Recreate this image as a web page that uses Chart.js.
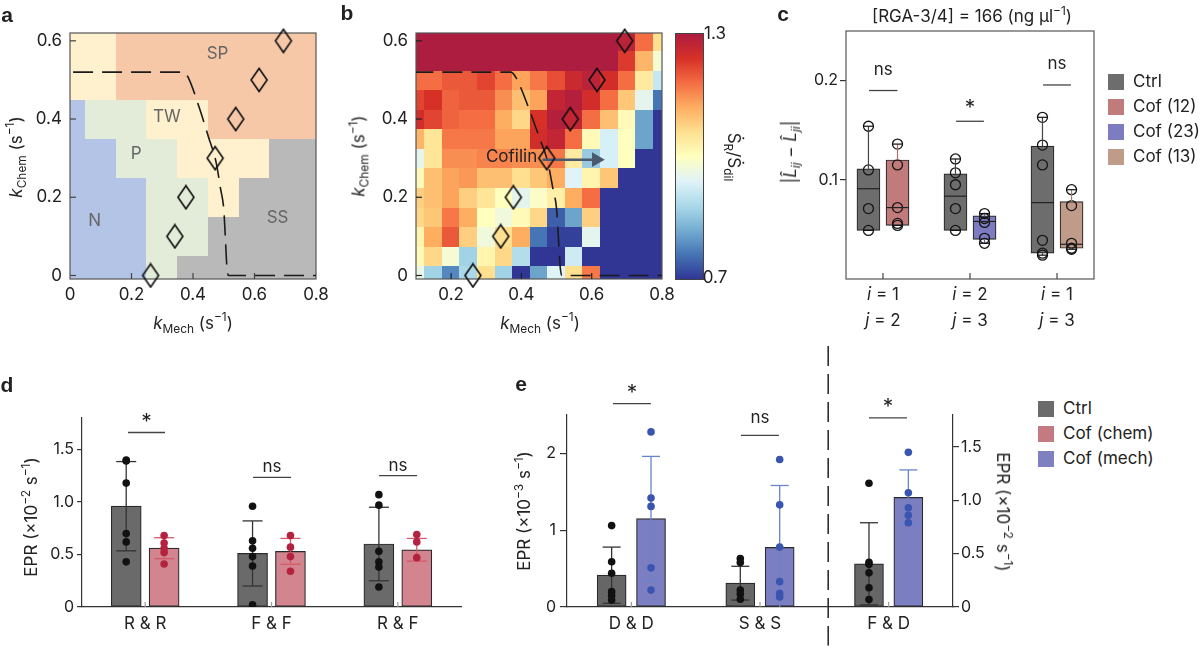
<!DOCTYPE html>
<html>
<head>
<meta charset="utf-8">
<title>Figure</title>
<script src="https://cdn.jsdelivr.net/npm/chart.js@4.4.1/dist/chart.umd.min.js"></script>
<style>
  body { margin: 0; background: #fff; }
  #fig { position: relative; width: 1200px; height: 646px; overflow: hidden; font-family: Inter, "Liberation Sans", sans-serif; color: #222; }
  #fig canvas { position: absolute; }
  .t { position: absolute; white-space: nowrap; font-size: 17px; line-height: 1; transform: translate(-50%, -50%); }
  .t.rl { transform: translate(-50%, -50%) rotate(-90deg); }
  .t.rr { transform: translate(-50%, -50%) rotate(90deg); }
  .t sub { font-size: 0.7em; vertical-align: -0.35em; }
  .t sup { font-size: 0.7em; vertical-align: 0.6em; }
  .pl { position: absolute; font: bold 21px "Liberation Sans", Arial, sans-serif; line-height: 1; transform: translate(-50%, -50%); }
  .lg { position: absolute; font-size: 17px; line-height: 1; }
  .lg div { display: flex; align-items: center; height: 25px; }
  .lg span { display: inline-block; width: 16px; height: 16px; margin-right: 9px; }
  #cbar { position: absolute; left: 675px; top: 33px; width: 27px; height: 245px; border: 1px solid #444; }
</style>
</head>
<body>
<div id="fig">
  <canvas id="cA" width="340" height="340" style="left:0;top:0"></canvas>
  <canvas id="cB" width="345" height="340" style="left:340px;top:0"></canvas>
  <canvas id="cC" width="350" height="340" style="left:760px;top:0"></canvas>
  <canvas id="cD" width="470" height="286" style="left:0;top:360px"></canvas>
  <canvas id="cE" width="510" height="306" style="left:490px;top:340px"></canvas>
  <div id="cbar"></div>
</div>
<script>
// ---------- panel a: phase diagram ----------
const phaseMech = [0, 0.1, 0.2, 0.3, 0.4, 0.5, 0.6, 0.7, 0.8];
const phaseChem = [0, 0.1, 0.2, 0.3, 0.4, 0.5, 0.6];
const phaseRows = [
  ['N', 'N', 'N', 'P', 'SS', 'SS', 'SS', 'SS', 'SS'],
  ['N', 'N', 'N', 'P', 'P', 'SS', 'SS', 'SS', 'SS'],
  ['N', 'N', 'N', 'P', 'P', 'TW', 'SS', 'SS', 'SS'],
  ['N', 'N', 'P', 'P', 'TW', 'TW', 'TW', 'SS', 'SS'],
  ['N', 'P', 'P', 'TW', 'TW', 'SP', 'SP', 'SP', 'SP'],
  ['TW', 'TW', 'SP', 'SP', 'SP', 'SP', 'SP', 'SP', 'SP'],
  ['TW', 'TW', 'SP', 'SP', 'SP', 'SP', 'SP', 'SP', 'SP']
];
const phaseNames = ['SP', 'TW', 'P', 'N', 'SS'];
const phaseLabelMech = [0.48, 0.315, 0.215, 0.08, 0.675];
const phaseLabelChem = [0.567, 0.405, 0.31, 0.14, 0.147];

// experimental points and the boundary (both panels a and b)
const diamondMech = [0.262, 0.341, 0.377, 0.472, 0.539, 0.615, 0.694];
const diamondChem = [0, 0.1, 0.2, 0.3, 0.4, 0.5, 0.6];
const boundaryMech = [0.01, 0.37, 0.385, 0.42, 0.45, 0.475, 0.49, 0.5, 0.505, 0.51, 0.515, 0.8];
const boundaryChem = [0.52, 0.52, 0.505, 0.43, 0.355, 0.29, 0.22, 0.17, 0.1, 0.025, 0, 0];

// ---------- panel b: S_R / S_dil heat map ----------
const hmMech = [0.1, 0.15, 0.2, 0.25, 0.3, 0.35, 0.4, 0.45, 0.5, 0.55, 0.6, 0.65, 0.7, 0.75, 0.8];
const hmChem = [0, 0.05, 0.1, 0.15, 0.2, 0.25, 0.3, 0.35, 0.4, 0.45, 0.5, 0.55, 0.6];
const hmRows = [
  [0.96, 0.87, 0.78, 0.88, 1.06, 0.87, 0.70, 0.81, 0.94, 1.06, 1.17, 0.70, 0.70, 0.70, 0.70],
  [1.01, 1.07, 0.98, 0.87, 1.02, 1.07, 0.89, 0.70, 0.70, 0.92, 0.70, 0.70, 0.70, 0.70, 0.70],
  [1.02, 1.12, 1.20, 1.08, 0.97, 1.06, 1.12, 0.76, 0.71, 0.71, 0.95, 0.70, 0.70, 0.70, 0.70],
  [1.07, 1.09, 1.17, 1.12, 1.00, 0.97, 1.01, 1.07, 0.74, 0.81, 1.08, 0.70, 0.70, 0.70, 0.70],
  [1.08, 1.10, 1.13, 1.08, 1.05, 1.00, 0.95, 0.99, 1.03, 1.12, 1.18, 0.70, 0.70, 0.70, 0.70],
  [1.01, 1.10, 1.13, 1.14, 1.10, 1.10, 1.06, 1.09, 1.12, 0.94, 1.02, 1.09, 0.70, 0.70, 0.70],
  [0.95, 1.05, 1.15, 1.15, 1.16, 1.16, 1.15, 1.15, 1.17, 1.04, 0.86, 0.93, 1.00, 0.70, 0.70],
  [1.11, 1.05, 1.17, 1.17, 1.17, 1.13, 1.13, 1.25, 1.27, 1.18, 1.01, 0.93, 1.00, 0.81, 0.70],
  [1.25, 1.22, 1.19, 1.18, 1.18, 1.12, 1.07, 1.24, 1.29, 1.27, 1.18, 1.10, 1.01, 0.81, 0.70],
  [1.22, 1.24, 1.19, 1.20, 1.20, 1.15, 1.10, 1.13, 1.27, 1.29, 1.25, 1.18, 1.09, 0.95, 0.76],
  [1.18, 1.18, 1.20, 1.20, 1.22, 1.18, 1.13, 1.17, 1.21, 1.26, 1.28, 1.25, 1.18, 1.04, 0.91],
  [1.30, 1.30, 1.30, 1.30, 1.30, 1.30, 1.30, 1.30, 1.30, 1.30, 1.30, 1.30, 1.23, 1.11, 0.98],
  [1.30, 1.30, 1.30, 1.30, 1.30, 1.30, 1.30, 1.30, 1.30, 1.30, 1.30, 1.30, 1.28, 1.18, 1.06]
];
const arrowMech = [0.46, 0.613];
const arrowChem = [0.296, 0.296];

// ---------- panel c: |L_ij - L_ji| box plots ----------
const pairI = [1, 2, 1];
const pairJ = [2, 3, 3];
const ctrlQ1 = [0.049, 0.049, 0.026];
const ctrlMed = [0.091, 0.0835, 0.077];
const ctrlQ3 = [0.111, 0.106, 0.134];
const cofQ1 = [0.054, 0.040, 0.031];
const cofMed = [0.072, 0.058, 0.035];
const cofQ3 = [0.120, 0.0636, 0.078];
const ctrlVals = [[0.154, 0.110, 0.071, 0.049], [0.121, 0.107, 0.095, 0.071, 0.049], [0.163, 0.135, 0.115, 0.039, 0.026, 0.024]];
const cofVals = [[0.136, 0.115, 0.072, 0.056, 0.054], [0.066, 0.061, 0.057, 0.041, 0.036], [0.090, 0.074, 0.036, 0.031, 0.030]];
const cSeries = ['Ctrl', 'Cof (12)', 'Cof (23)', 'Cof (13)'];

// ---------- panel d: EPR (x10^-2 s^-1) ----------
const dGroups = ['R & R', 'F & F', 'R & F'];
const dCtrlMean = [0.96, 0.51, 0.60];
const dCtrlSD = [0.425, 0.31, 0.35];
const dCofMean = [0.56, 0.53, 0.545];
const dCofSD = [0.10, 0.123, 0.108];
const dCtrlPts = [[1.40, 1.39, 1.18, 0.70, 0.62, 0.43], [0.96, 0.63, 0.56, 0.48, 0.39, 0.02], [1.07, 0.97, 0.53, 0.43, 0.38, 0.19]];
const dCofPts = [[0.68, 0.61, 0.56, 0.52, 0.41], [0.68, 0.57, 0.48, 0.34], [0.69, 0.62, 0.47]];

// ---------- panel e: EPR, last group on the right axis ----------
const eGroups = ['D & D', 'S & S', 'F & D'];
const eAxis = ['y', 'y', 'y2'];
const eCtrlMean = [0.414, 0.31, 0.405];
const eCtrlSD = [0.366, 0.22, 0.385];
const eCofMean = [1.151, 0.776, 1.028];
const eCofSD = [0.81, 0.806, 0.257];
const eCtrlPts = [[1.06, 0.59, 0.44, 0.20, 0.15, 0.09], [0.63, 0.58, 0.22, 0.17, 0.10], [1.16, 0.42, 0.40, 0.32, 0.18, 0.07]];
const eCofPts = [[2.28, 1.42, 1.31, 0.51, 0.22], [1.92, 1.33, 0.78, 0.33, 0.18, 0.13], [1.45, 1.07, 0.93, 0.86, 0.79]];
const eSeries = ['Ctrl', 'Cof (chem)', 'Cof (mech)'];

// ---------- setup ----------
const F = 'Inter, "Liberation Sans", sans-serif';
Chart.defaults.font.family = F;
Chart.defaults.color = '#222';
Chart.defaults.animation = false;
Chart.defaults.responsive = false;
Chart.defaults.events = [];
Chart.defaults.plugins.legend.display = false;
Chart.defaults.plugins.tooltip.enabled = false;

const fig = document.getElementById('fig');
const phaseColors = { SP: '#f6c8a8', TW: '#fff1cd', P: '#e2ecd8', N: '#b3c4e6', SS: '#b9b9b9' };
const cmapStops = ['#313695', '#4575b4', '#74add1', '#abd9e9', '#e0f3f8', '#ffffbf', '#fee090', '#fdae61', '#f46d43', '#d73027', '#ad1d40'];

function hexRgb(h) { const n = parseInt(h.slice(1), 16); return [n >> 16, (n >> 8) & 255, n & 255]; }
function cmap(v) {
  const t = Math.min(1, Math.max(0, (v - 0.7) / 0.6)) * 10;
  const i = Math.min(9, Math.floor(t)), f = t - i;
  const a = hexRgb(cmapStops[i]), b = hexRgb(cmapStops[i + 1]);
  return 'rgb(' + a.map((c, k) => Math.round(c + (b[k] - c) * f)).join(',') + ')';
}
const fmt1 = v => v === 0 ? '0' : v.toFixed(1);
const fmt0 = v => String(v);

function addText(html, x, y, cls) {
  const d = document.createElement('div');
  d.className = cls || 't';
  d.style.left = x + 'px';
  d.style.top = y + 'px';
  d.innerHTML = html;
  fig.appendChild(d);
}
function addLegend(x, y, names, colors) {
  const box = document.createElement('div');
  box.className = 'lg';
  box.style.left = x + 'px';
  box.style.top = y + 'px';
  names.forEach((n, i) => {
    const row = document.createElement('div');
    row.innerHTML = '<span style="background:' + colors[i] + '"></span>' + n;
    box.appendChild(row);
  });
  fig.appendChild(box);
}

function ctxDo(chart, fn) { const g = chart.ctx; g.save(); fn(g); g.restore(); }
function seg(g, x0, y0, x1, y1) { g.beginPath(); g.moveTo(x0, y0); g.lineTo(x1, y1); g.stroke(); }
function frame(chart) {
  const a = chart.chartArea;
  ctxDo(chart, g => { g.strokeStyle = '#555'; g.lineWidth = 1.2; g.strokeRect(a.left, a.top, a.right - a.left, a.bottom - a.top); });
}
function inTicks(chart, id, vals, len, color) {
  const s = chart.scales[id], a = chart.chartArea;
  ctxDo(chart, g => {
    g.strokeStyle = color; g.lineWidth = 1.2;
    vals.forEach(v => {
      const p = s.getPixelForValue(v);
      if (s.isHorizontal()) seg(g, p, a.bottom, p, a.bottom - len);
      else seg(g, a.left, p, a.left + len, p);
    });
  });
}
function label(chart, x, y, str, font, color) {
  const px = chart.scales.x.getPixelForValue(x), py = chart.scales.y.getPixelForValue(y);
  ctxDo(chart, g => { g.font = font; g.fillStyle = color; g.textAlign = 'center'; g.textBaseline = 'middle'; g.fillText(str, px, py); });
}
function sigMarks(chart, list) {
  const xs = chart.scales.x, ys = chart.scales.y;
  ctxDo(chart, g => {
    g.strokeStyle = '#444'; g.lineWidth = 1.3; g.fillStyle = '#222'; g.textAlign = 'center'; g.textBaseline = 'middle';
    list.forEach(s => {
      const y = ys.getPixelForValue(s.y);
      seg(g, xs.getPixelForValue(s.x0), y, xs.getPixelForValue(s.x1), y);
      g.font = (s.label === '*' ? '21px ' : '17px ') + F;
      g.fillText(s.label, xs.getPixelForValue((s.x0 + s.x1) / 2), ys.getPixelForValue(s.ty));
    });
  });
}
function errBars(chart, xs, means, sds, axes, color, cap) {
  ctxDo(chart, g => {
    g.strokeStyle = color; g.lineWidth = 1.3;
    xs.forEach((x, i) => {
      const ys = chart.scales[axes[i]], px = chart.scales.x.getPixelForValue(x);
      const lowV = means[i] - sds[i];
      const hi = ys.getPixelForValue(means[i] + sds[i]), lo = ys.getPixelForValue(Math.max(ys.min, lowV));
      seg(g, px, hi, px, lo);
      seg(g, px - cap, hi, px + cap, hi);
      if (lowV > ys.min) seg(g, px - cap, lo, px + cap, lo);
    });
  });
}
function cells(chart, xv, yv, rows, half, colorOf) {
  const xs = chart.scales.x, ys = chart.scales.y, a = chart.chartArea;
  ctxDo(chart, g => {
    g.beginPath(); g.rect(a.left, a.top, a.right - a.left, a.bottom - a.top); g.clip();
    rows.forEach((row, j) => row.forEach((v, i) => {
      const x0 = Math.floor(xs.getPixelForValue(xv[i] - half[0])), x1 = Math.ceil(xs.getPixelForValue(xv[i] + half[0]));
      const y0 = Math.floor(ys.getPixelForValue(yv[j] + half[1])), y1 = Math.ceil(ys.getPixelForValue(yv[j] - half[1]));
      g.fillStyle = colorOf(v);
      g.fillRect(x0, y0, x1 - x0, y1 - y0);
    }));
  });
}

function kAxis(min, max, ticks, size, horizontal) {
  return {
    type: 'linear', min, max, offset: false,
    afterBuildTicks: s => { s.ticks = ticks.map(value => ({ value })); },
    afterFit: s => { if (horizontal) s.height = size; else s.width = size; },
    grid: { display: false, drawTicks: false },
    border: { display: false },
    ticks: { padding: horizontal ? 6 : 8, font: { size: 17 }, color: '#222', callback: fmt1 }
  };
}
function valAxis(min, max, ticks, width, tickLen, pad, pos, fmt, border) {
  return {
    type: 'linear', position: pos, min, max,
    afterBuildTicks: s => { s.ticks = ticks.map(value => ({ value })); },
    afterFit: s => { s.width = width; },
    grid: { display: true, drawOnChartArea: false, drawTicks: true, tickLength: tickLen, color: '#333', lineWidth: 1.2 },
    border: { display: border, color: '#333', width: 1.2 },
    ticks: { padding: pad, font: { size: 16 }, color: '#222', callback: fmt }
  };
}
function groupAxis(min, max, ticks, labels, height) {
  return {
    type: 'linear', min, max, offset: false,
    afterBuildTicks: s => { s.ticks = ticks.map(value => ({ value })); },
    afterFit: s => { s.height = height; },
    grid: { display: false, drawTicks: false },
    border: { display: !!labels, color: '#333', width: 1.2 },
    ticks: { display: !!labels, padding: 7, font: { size: 17 }, color: '#222', callback: v => labels ? labels[Math.round(v) - 1] : '' }
  };
}
function xy(xs, ys) { return xs.map((x, i) => ({ x, y: ys[i] })); }
function pts(vals, groups, off, idx) {
  return idx.flatMap(i => vals[i].map(y => ({ x: groups[i] + off, y })));
}

const diamond = (() => {
  const c = document.createElement('canvas');
  c.width = 20; c.height = 26;
  const g = c.getContext('2d');
  g.strokeStyle = '#111'; g.lineWidth = 1.6;
  g.beginPath(); g.moveTo(10, 1.5); g.lineTo(18, 13); g.lineTo(10, 24.5); g.lineTo(2, 13); g.closePath(); g.stroke();
  return c;
})();

function boundarySet() {
  return { type: 'line', data: xy(boundaryMech, boundaryChem), borderColor: '#1b1b1b', borderWidth: 1.6, borderDash: [20, 9], pointRadius: 0, cubicInterpolationMode: 'monotone', fill: false };
}
function diamondSet() {
  return { type: 'scatter', data: xy(diamondMech, diamondChem), pointStyle: diamond, pointRadius: 10, clip: false };
}

// ---------- chart a ----------
new Chart(document.getElementById('cA'), {
  type: 'scatter',
  data: { datasets: [diamondSet(), boundarySet()] },
  options: {
    layout: { padding: { top: 33, right: 24 } },
    scales: {
      x: kAxis(0, 0.8, [0, 0.2, 0.4, 0.6, 0.8], 61, true),
      y: kAxis(-0.009, 0.62, [0, 0.2, 0.4, 0.6], 70, false)
    }
  },
  plugins: [{
    id: 'phaseA',
    beforeDatasetsDraw(c) {
      cells(c, phaseMech, phaseChem, phaseRows, [0.05, 0.05], p => phaseColors[p]);
      phaseNames.forEach((n, i) => label(c, phaseLabelMech[i], phaseLabelChem[i], n, '17px ' + F, '#666'));
      frame(c);
      inTicks(c, 'x', [0.2, 0.4, 0.6], 6, '#444');
      inTicks(c, 'y', [0, 0.2, 0.4, 0.6], 6, '#444');
    }
  }]
});

// ---------- chart b ----------
new Chart(document.getElementById('cB'), {
  type: 'scatter',
  data: {
    datasets: [
      diamondSet(),
      { type: 'line', data: xy(arrowMech, arrowChem), borderColor: '#4b596f', borderWidth: 2.5, pointRadius: [0, 6], pointStyle: 'triangle', rotation: 90, pointBackgroundColor: '#4b596f', pointBorderColor: '#4b596f' },
      boundarySet()
    ]
  },
  options: {
    layout: { padding: { top: 33, right: 23 } },
    scales: {
      x: kAxis(0.1, 0.8, [0.2, 0.4, 0.6, 0.8], 61, true),
      y: kAxis(-0.009, 0.62, [0, 0.2, 0.4, 0.6], 76, false)
    }
  },
  plugins: [{
    id: 'heatB',
    beforeDatasetsDraw(c) {
      cells(c, hmMech, hmChem, hmRows, [0.025, 0.025], cmap);
      frame(c);
      inTicks(c, 'x', [0.2, 0.4, 0.6], 6, '#222');
      inTicks(c, 'y', [0, 0.2, 0.4, 0.6], 6, '#222');
    },
    afterDatasetsDraw(c) {
      label(c, 0.372, 0.304, 'Cofilin', '17px ' + F, '#222');
    }
  }]
});
document.getElementById('cbar').style.background = 'linear-gradient(to top,' + cmapStops.join(',') + ')';

// ---------- chart c ----------
const cX = [1, 2, 3], cOff = 0.167, cIdx = [0, 1, 2];
const cColors = ['#6d6d6d', '#c27b7b', '#7d7cc1', '#c09b89'];
const cWhisk = ['#b06a6a', '#5d5ca0', '#a07f6e'];
const cSigs = [
  { x0: 0.839, x1: 1.166, y: 0.19, ty: 0.2105, label: 'ns' },
  { x0: 1.84, x1: 2.16, y: 0.159, ty: 0.1715, label: '*' },
  { x0: 2.84, x1: 3.16, y: 0.1956, ty: 0.2165, label: 'ns' }
];
function boxLines(c, off, q1, med, q3, vals, colors) {
  const xs = c.scales.x, ys = c.scales.y;
  ctxDo(c, g => {
    g.lineWidth = 1.2;
    cX.forEach((gv, i) => {
      const px = xs.getPixelForValue(gv + off);
      const lo = Math.min(...vals[i]), hi = Math.max(...vals[i]);
      g.strokeStyle = colors[i];
      seg(g, px, ys.getPixelForValue(q3[i]), px, ys.getPixelForValue(hi));
      seg(g, px, ys.getPixelForValue(q1[i]), px, ys.getPixelForValue(lo));
      g.strokeStyle = '#111';
      seg(g, px - 5.5, ys.getPixelForValue(hi), px + 5.5, ys.getPixelForValue(hi));
      seg(g, px - 5.5, ys.getPixelForValue(lo), px + 5.5, ys.getPixelForValue(lo));
      g.strokeStyle = '#222';
      seg(g, px - 11.5, ys.getPixelForValue(med[i]), px + 11.5, ys.getPixelForValue(med[i]));
    });
  });
}
const chC = new Chart(document.getElementById('cC'), {
  type: 'bar',
  data: {
    datasets: [
      { data: cX.map((g, i) => ({ x: g - cOff, y: [ctrlQ1[i], ctrlQ3[i]] })), backgroundColor: cColors[0], borderColor: '#2b2b2b', borderWidth: 1.2, borderSkipped: false, grouped: false, barThickness: 23, maxBarThickness: 23, order: 1 },
      { data: cX.map((g, i) => ({ x: g + cOff, y: [cofQ1[i], cofQ3[i]] })), backgroundColor: cColors.slice(1), borderColor: '#2b2b2b', borderWidth: 1.2, borderSkipped: false, grouped: false, barThickness: 23, maxBarThickness: 23, order: 1 },
      { type: 'scatter', data: pts(ctrlVals, cX, -cOff, cIdx), pointRadius: 5, borderWidth: 1.3, borderColor: '#151515', backgroundColor: 'rgba(0,0,0,0)', order: 0 },
      { type: 'scatter', data: pts(cofVals, cX, cOff, cIdx), pointRadius: 5, borderWidth: 1.3, borderColor: '#151515', backgroundColor: 'rgba(0,0,0,0)', order: 0 }
    ]
  },
  options: {
    layout: { padding: { top: 31, right: 16 } },
    scales: {
      x: groupAxis(0.575, 3.425, cX, null, 61),
      y: valAxis(0, 0.25, [0.1, 0.2], 86, 6, 2, 'left', fmt1, false)
    }
  },
  plugins: [{
    id: 'boxC',
    afterDatasetsDraw(c) {
      boxLines(c, -cOff, ctrlQ1, ctrlMed, ctrlQ3, ctrlVals, ['#444', '#444', '#444']);
      boxLines(c, cOff, cofQ1, cofMed, cofQ3, cofVals, cWhisk);
      frame(c);
      inTicks(c, 'x', cX, 6, '#444');
      sigMarks(c, cSigs);
    }
  }]
});
cX.forEach((g, i) => {
  const px = 760 + chC.scales.x.getPixelForValue(g);
  addText('<i>i</i> = ' + pairI[i], px, 294);
  addText('<i>j</i> = ' + pairJ[i], px, 320);
});

// ---------- chart d ----------
const dX = [1, 2, 3], dOff = 0.15, dIdx = [0, 1, 2];
const dSigs = [
  { x0: 0.864, x1: 1.157, y: 1.662, ty: 1.755, label: '*' },
  { x0: 1.854, x1: 2.155, y: 1.235, ty: 1.337, label: 'ns' },
  { x0: 2.852, x1: 3.152, y: 1.251, ty: 1.347, label: 'ns' }
];
new Chart(document.getElementById('cD'), {
  type: 'bar',
  data: {
    datasets: [
      { data: dX.map((g, i) => ({ x: g - dOff, y: dCtrlMean[i] })), backgroundColor: '#6a6a6a', borderColor: '#2a2a2a', borderWidth: 1.2, borderSkipped: false, grouped: false, barThickness: 30, maxBarThickness: 30, order: 1 },
      { data: dX.map((g, i) => ({ x: g + dOff, y: dCofMean[i] })), backgroundColor: '#d3858f', borderColor: '#2a2a2a', borderWidth: 1.2, borderSkipped: false, grouped: false, barThickness: 30, maxBarThickness: 30, order: 1 },
      { type: 'scatter', data: pts(dCtrlPts, dX, -dOff, dIdx), pointRadius: 3.8, borderWidth: 0, backgroundColor: '#111', order: 0 },
      { type: 'scatter', data: pts(dCofPts, dX, dOff, dIdx), pointRadius: 3.8, borderWidth: 0, backgroundColor: '#b3233f', order: 0 }
    ]
  },
  options: {
    layout: { padding: { top: 58, right: 9 } },
    scales: {
      x: groupAxis(0.5, 3.5, dX, dGroups, 39),
      y: valAxis(0, 1.8, [0, 0.5, 1, 1.5], 82, 5, 3, 'left', fmt1, true)
    }
  },
  plugins: [{
    id: 'errD',
    afterDatasetDraw(c, args) {
      if (args.index !== 0) return;
      errBars(c, dX.map(g => g - dOff), dCtrlMean, dCtrlSD, ['y', 'y', 'y'], '#333', 10);
      errBars(c, dX.map(g => g + dOff), dCofMean, dCofSD, ['y', 'y', 'y'], '#d45b6c', 10);
    },
    afterDatasetsDraw(c) {
      inTicks(c, 'x', dX, 5, '#9a9a9a');
      sigMarks(c, dSigs);
    }
  }]
});

// ---------- chart e ----------
const eX = [1, 2, 3], eOff = 0.153;
const eL = [0, 1, 2].filter(i => eAxis[i] === 'y');
const eR = [0, 1, 2].filter(i => eAxis[i] === 'y2');
const eDivider = 2.53;
const eSigs = [
  { x0: 0.857, x1: 1.152, y: 2.647, ty: 2.78, label: '*' },
  { x0: 1.852, x1: 2.147, y: 2.234, ty: 2.46, label: 'ns' },
  { x0: 2.847, x1: 3.142, y: 2.462, ty: 2.59, label: '*' }
];
function eBars(idx, means, off, color, axis) {
  return { data: idx.map(i => ({ x: eX[i] + off, y: means[i] })), yAxisID: axis, backgroundColor: color, borderColor: '#2a2a2a', borderWidth: 1.2, borderSkipped: false, grouped: false, barThickness: 29, maxBarThickness: 29, order: 1 };
}
function eDots(idx, vals, off, color, axis) {
  return { type: 'scatter', data: pts(vals, eX, off, idx), yAxisID: axis, pointRadius: 3.8, borderWidth: 0, backgroundColor: color, order: 0 };
}
new Chart(document.getElementById('cE'), {
  type: 'bar',
  data: {
    datasets: [
      eBars(eL, eCtrlMean, -eOff, '#666666', 'y'),
      eBars(eL, eCofMean, eOff, '#7b7ec0', 'y'),
      eBars(eR, eCtrlMean, -eOff, '#666666', 'y2'),
      eBars(eR, eCofMean, eOff, '#7b7ec0', 'y2'),
      eDots(eL, eCtrlPts, -eOff, '#111', 'y'),
      eDots(eL, eCofPts, eOff, '#3a55b0', 'y'),
      eDots(eR, eCtrlPts, -eOff, '#111', 'y2'),
      eDots(eR, eCofPts, eOff, '#3a55b0', 'y2'),
      { type: 'line', data: [{ x: eDivider, y: 3.4 }, { x: eDivider, y: -0.5 }], borderColor: '#222', borderWidth: 1.5, borderDash: [20, 8], pointRadius: 0, clip: false, order: 0 }
    ]
  },
  options: {
    layout: { padding: { top: 75 } },
    scales: {
      x: groupAxis(0.5, 3.5, eX, eGroups, 39),
      y: valAxis(0, 2.5, [0, 1, 2], 77, 7, 4, 'left', fmt0, true),
      y2: valAxis(0, 1.8, [0, 0.5, 1, 1.5], 47, 6, 2, 'right', fmt1, true)
    }
  },
  plugins: [{
    id: 'errE',
    afterDatasetDraw(c, args) {
      if (args.index !== 0) return;
      errBars(c, eX.map(g => g - eOff), eCtrlMean, eCtrlSD, eAxis, '#333', 9);
      errBars(c, eX.map(g => g + eOff), eCofMean, eCofSD, eAxis, '#6a84cc', 9);
    },
    afterDatasetsDraw(c) {
      inTicks(c, 'x', eX, 5, '#9a9a9a');
      sigMarks(c, eSigs);
    }
  }]
});

// ---------- text around the plots ----------
addText('a', 7, 14, 'pl');
addText('b', 347, 12, 'pl');
addText('c', 783, 13, 'pl');
addText('d', 7, 384, 'pl');
addText('e', 521, 383, 'pl');

const kMech = '<i>k</i><sub>Mech</sub> (s<sup>−1</sup>)';
const kChem = '<i>k</i><sub>Chem</sub> (s<sup>−1</sup>)';
addText(kMech, 193, 323);
addText(kMech, 540, 323);
addText(kChem, 16, 157, 't rl');
addText(kChem, 359, 156, 't rl');

addText('1.3', 715, 33);
addText('0.7', 715, 277);
addText('Ṡ<sub>R</sub>/Ṡ<sub>dil</sub>', 732, 157, 't rr');

addText('[RGA-3/4] = 166 (ng µl<sup>−1</sup>)', 972, 15);
addText('|<i>L&#770;</i><sub><i>ij</i></sub> − <i>L&#770;</i><sub><i>ji</i></sub>|', 792, 152, 't rl');
addLegend(1108, 69, cSeries, cColors);

addText('EPR (×10<sup>−2</sup> s<sup>−1</sup>)', 30, 517, 't rl');
addText('EPR (×10<sup>−3</sup> s<sup>−1</sup>)', 523, 511, 't rl');
addText('EPR (×10<sup>−2</sup> s<sup>−1</sup>)', 1004, 512, 't rr');
addLegend(1038, 396, eSeries, ['#6b6b6b', '#c47a80', '#7f80bf']);
</script>
</body>
</html>
